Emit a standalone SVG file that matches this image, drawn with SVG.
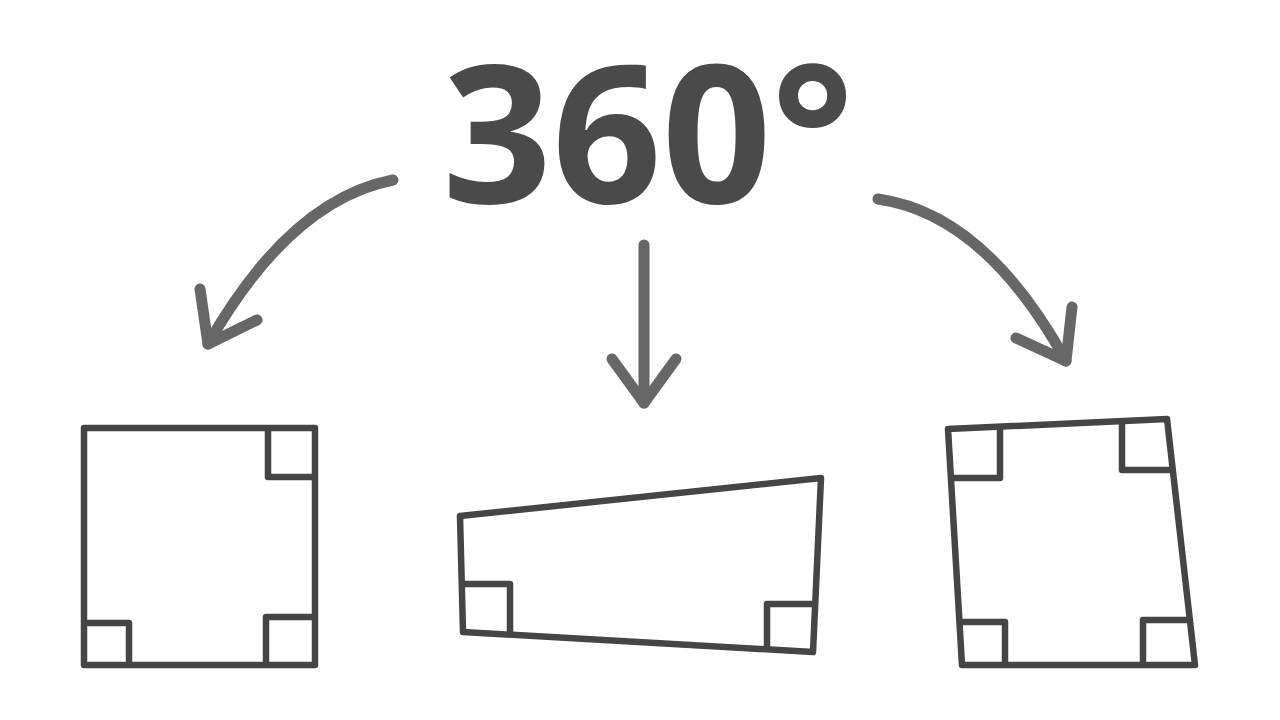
<svg xmlns="http://www.w3.org/2000/svg" width="1280" height="720" viewBox="0 0 1280 720">
<style>
.shape{fill:none;stroke:#454545;stroke-width:6.5;stroke-linejoin:round;stroke-linecap:butt}
.arrow{fill:none;stroke:#676767;stroke-width:11;stroke-linecap:round;stroke-linejoin:round}
.title{font-family:"Open Sans","Liberation Sans",sans-serif;font-weight:700;fill:#4a4a4a}
</style>
<rect width="1280" height="720" fill="#ffffff"/>
<g id="title">
<text class="title" x="648" y="203" font-size="192" text-anchor="middle">360°</text>
</g>
<g id="connectors">
<path class="arrow" d="M393,180 Q290,200 208,344"/>
<path class="arrow" d="M200,289 L208,344 L257,320"/>
<path class="arrow" d="M644,245 L644,403"/>
<path class="arrow" d="M612,359 L644,403 L676,359"/>
<path class="arrow" d="M878,199 Q985,214 1066,361"/>
<path class="arrow" d="M1072,307 L1066,361 L1016,338"/>
</g>
<g id="square">
<rect class="shape" x="84" y="428" width="231" height="237" stroke-linejoin="round"/>
<path class="shape" d="M268,428 L268,477 L315,477"/>
<path class="shape" d="M84,623 L129,623 L129,665"/>
<path class="shape" d="M266,665 L266,617 L315,617"/>
</g>
<g id="trapezoid">
<path class="shape" d="M460,516 L821,478 L813,652 L463,632 Z"/>
<path class="shape" d="M464,584 L510,584 L510,634"/>
<path class="shape" d="M767,650 L767,604 L812,604"/>
</g>
<g id="quad">
<path class="shape" d="M948,429 L1167,419 L1195,665 L962,665 Z"/>
<path class="shape" d="M1000,427 L1000,478 L951,478"/>
<path class="shape" d="M1122,421 L1122,470 L1173,470"/>
<path class="shape" d="M957,622 L1005,622 L1005,665"/>
<path class="shape" d="M1143,665 L1143,620 L1189,620"/>
</g>
</svg>
